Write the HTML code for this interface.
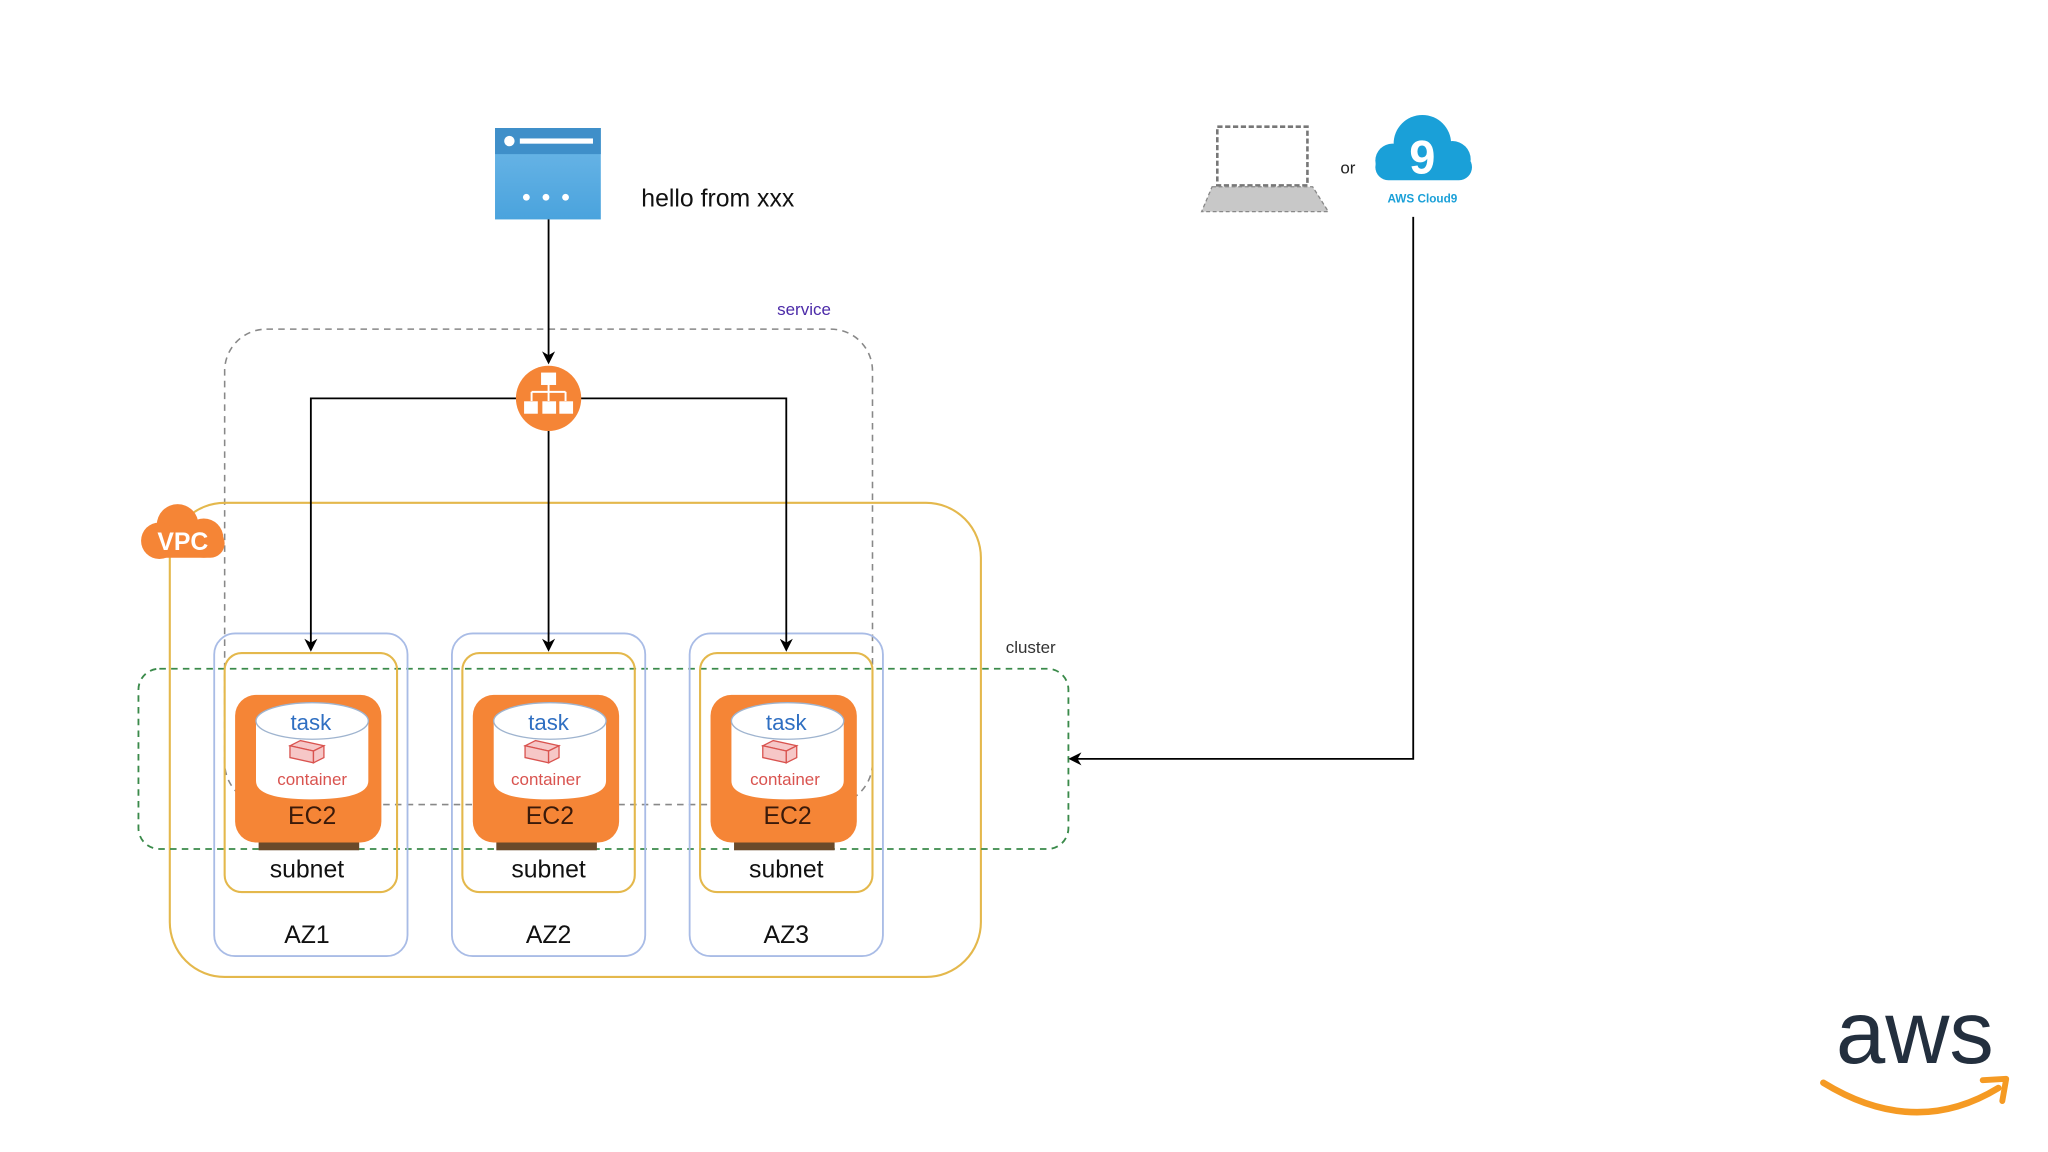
<!DOCTYPE html>
<html><head><meta charset="utf-8"><style>
html,body{margin:0;padding:0;background:#fff;}
svg{display:block;}
text{font-family:"Liberation Sans",sans-serif;}
</style></head><body>
<svg width="2048" height="1152" viewBox="0 0 1568 882" xmlns="http://www.w3.org/2000/svg">
<defs>
<marker id="ar" markerWidth="10" markerHeight="10" refX="8" refY="5" orient="auto" markerUnits="userSpaceOnUse"><path d="M0,0 L10,5 L0,10 L3,5 z" fill="#000"/></marker>
<linearGradient id="bg" x1="0" y1="0" x2="0" y2="1"><stop offset="0" stop-color="#6fb8e8"/><stop offset="1" stop-color="#4aa3dd"/></linearGradient>
</defs>
<rect width="1568" height="882" fill="#fff"/>

<rect x="379" y="98" width="81" height="70" fill="url(#bg)"/>
<rect x="379" y="98" width="81" height="20" fill="#3f8fc9"/>
<rect x="398" y="106" width="56" height="4" fill="#fff"/>
<circle cx="390" cy="108" r="4" fill="#fff"/>
<circle cx="403" cy="151" r="2.6" fill="#fff"/><circle cx="418" cy="151" r="2.6" fill="#fff"/><circle cx="433" cy="151" r="2.6" fill="#fff"/>
<text x="491" y="158" font-size="19" fill="#111">hello from xxx</text>

<rect x="172" y="252" width="496" height="364" rx="32" fill="none" stroke="#888" stroke-dasharray="5,4" stroke-width="1.2"/>
<text x="595" y="241" font-size="13" fill="#4b2aa8">service</text>

<rect x="130" y="385" width="621" height="363" rx="42" fill="none" stroke="#e4b84c" stroke-width="1.6"/>
<g fill="#f58536">
<circle cx="136" cy="402" r="16"/><circle cx="122" cy="414" r="14"/><circle cx="156" cy="412" r="15"/>
<rect x="110" y="405" width="62" height="22" rx="11"/>
</g>
<text x="140" y="421" font-size="19" fill="#fff" text-anchor="middle" font-weight="bold">VPC</text>

<rect x="106" y="512" width="712" height="138" rx="16" fill="none" stroke="#3a8a4a" stroke-dasharray="5,4" stroke-width="1.4"/>
<text x="770" y="500" font-size="13" fill="#333">cluster</text>

<g>
<rect x="164" y="485" width="148" height="247" rx="16" fill="none" stroke="#a9bce6" stroke-width="1.4"/>
<rect x="172" y="500" width="132" height="183" rx="13" fill="none" stroke="#e4b84c" stroke-width="1.6"/>
<rect x="198" y="643" width="77" height="8" fill="#6b4a2a"/>
<rect x="180" y="532" width="112" height="113" rx="16" fill="#f58536"/>
<path d="M196,552 L196,598 Q196,612 238,612 Q282,612 282,598 L282,552 Z" fill="#fff"/>
<ellipse cx="239" cy="552" rx="43" ry="14" fill="#fff" stroke="#9fb4cf" stroke-width="1"/>
<g transform="translate(222,567)" fill="#f6c7c7" stroke="#d9534f" stroke-width="1">
<path d="M0,4 L8,0 L26,4 L18,8 Z"/><path d="M0,4 L18,8 L18,17 L0,13 Z"/><path d="M18,8 L26,4 L26,13 L18,17 Z"/>
</g>
<text x="238" y="559" font-size="17" fill="#2f6fc2" text-anchor="middle">task</text>
<text x="239" y="601" font-size="13" fill="#d9534f" text-anchor="middle">container</text>
<text x="239" y="631" font-size="19" fill="#3a1a0a" text-anchor="middle">EC2</text>
<text x="235" y="672" font-size="19" fill="#111" text-anchor="middle">subnet</text>
<text x="235" y="722" font-size="19" fill="#111" text-anchor="middle">AZ1</text>
</g>
<g transform="translate(182,0)">
<rect x="164" y="485" width="148" height="247" rx="16" fill="none" stroke="#a9bce6" stroke-width="1.4"/>
<rect x="172" y="500" width="132" height="183" rx="13" fill="none" stroke="#e4b84c" stroke-width="1.6"/>
<rect x="198" y="643" width="77" height="8" fill="#6b4a2a"/>
<rect x="180" y="532" width="112" height="113" rx="16" fill="#f58536"/>
<path d="M196,552 L196,598 Q196,612 238,612 Q282,612 282,598 L282,552 Z" fill="#fff"/>
<ellipse cx="239" cy="552" rx="43" ry="14" fill="#fff" stroke="#9fb4cf" stroke-width="1"/>
<g transform="translate(220,567)" fill="#f6c7c7" stroke="#d9534f" stroke-width="1">
<path d="M0,4 L8,0 L26,4 L18,8 Z"/><path d="M0,4 L18,8 L18,17 L0,13 Z"/><path d="M18,8 L26,4 L26,13 L18,17 Z"/>
</g>
<text x="238" y="559" font-size="17" fill="#2f6fc2" text-anchor="middle">task</text>
<text x="236" y="601" font-size="13" fill="#d9534f" text-anchor="middle">container</text>
<text x="239" y="631" font-size="19" fill="#3a1a0a" text-anchor="middle">EC2</text>
<text x="238" y="672" font-size="19" fill="#111" text-anchor="middle">subnet</text>
<text x="238" y="722" font-size="19" fill="#111" text-anchor="middle">AZ2</text>
</g>
<g transform="translate(364,0)">
<rect x="164" y="485" width="148" height="247" rx="16" fill="none" stroke="#a9bce6" stroke-width="1.4"/>
<rect x="172" y="500" width="132" height="183" rx="13" fill="none" stroke="#e4b84c" stroke-width="1.6"/>
<rect x="198" y="643" width="77" height="8" fill="#6b4a2a"/>
<rect x="180" y="532" width="112" height="113" rx="16" fill="#f58536"/>
<path d="M196,552 L196,598 Q196,612 238,612 Q282,612 282,598 L282,552 Z" fill="#fff"/>
<ellipse cx="239" cy="552" rx="43" ry="14" fill="#fff" stroke="#9fb4cf" stroke-width="1"/>
<g transform="translate(220,567)" fill="#f6c7c7" stroke="#d9534f" stroke-width="1">
<path d="M0,4 L8,0 L26,4 L18,8 Z"/><path d="M0,4 L18,8 L18,17 L0,13 Z"/><path d="M18,8 L26,4 L26,13 L18,17 Z"/>
</g>
<text x="238" y="559" font-size="17" fill="#2f6fc2" text-anchor="middle">task</text>
<text x="237" y="601" font-size="13" fill="#d9534f" text-anchor="middle">container</text>
<text x="239" y="631" font-size="19" fill="#3a1a0a" text-anchor="middle">EC2</text>
<text x="238" y="672" font-size="19" fill="#111" text-anchor="middle">subnet</text>
<text x="238" y="722" font-size="19" fill="#111" text-anchor="middle">AZ3</text>
</g>

<line x1="420" y1="168" x2="420" y2="277" stroke="#000" stroke-width="1.4" marker-end="url(#ar)"/>
<path d="M420,305 L238,305 L238,497" fill="none" stroke="#000" stroke-width="1.4" marker-end="url(#ar)"/>
<path d="M420,305 L602,305 L602,497" fill="none" stroke="#000" stroke-width="1.4" marker-end="url(#ar)"/>
<line x1="420" y1="330" x2="420" y2="497" stroke="#000" stroke-width="1.4" marker-end="url(#ar)"/>
<path d="M1082,166 L1082,581 L820,581" fill="none" stroke="#000" stroke-width="1.4" marker-end="url(#ar)"/>

<circle cx="420" cy="305" r="25" fill="#f58536"/>
<g fill="#fff" stroke="#fff" stroke-width="1.5">
<rect x="415" y="286" width="10" height="8"/>
<line x1="420" y1="294" x2="420" y2="300" fill="none"/>
<line x1="407" y1="300" x2="433" y2="300"/>
<line x1="407" y1="300" x2="407" y2="307"/><line x1="420" y1="300" x2="420" y2="307"/><line x1="433" y1="300" x2="433" y2="307"/>
<rect x="402" y="308" width="9" height="8"/><rect x="416" y="308" width="9" height="8"/><rect x="429" y="308" width="9" height="8"/>
</g>

<rect x="932" y="97" width="69" height="45" fill="#fff" stroke="#777" stroke-width="2" stroke-dasharray="4,2"/>
<path d="M928,143 L1005,143 L1017,162 L920,162 Z" fill="#c8c8c8" stroke="#888" stroke-width="1" stroke-dasharray="3,2"/>
<text x="1032" y="133" font-size="13" fill="#222" text-anchor="middle">or</text>

<g fill="#1aa0d8">
<circle cx="1089" cy="110" r="22"/><circle cx="1066" cy="123" r="13"/><circle cx="1112" cy="122" r="14"/>
<rect x="1053" y="118" width="74" height="20" rx="10"/>
</g>
<text x="1089" y="133" font-size="36" font-weight="bold" fill="#fff" text-anchor="middle">9</text>
<text x="1089" y="155" font-size="9" fill="#1aa0d8" text-anchor="middle" font-weight="bold">AWS Cloud9</text>

<text x="1466" y="814" font-size="68" fill="#232f3e" text-anchor="middle">aws</text>
<path d="M1396,829 Q1466,872 1530,833" fill="none" stroke="#f59a23" stroke-width="5" stroke-linecap="round"/>
<path d="M1518,827 L1536,826 L1533,843" fill="none" stroke="#f59a23" stroke-width="4.5" stroke-linecap="round" stroke-linejoin="round"/>
</svg>
</body></html>
